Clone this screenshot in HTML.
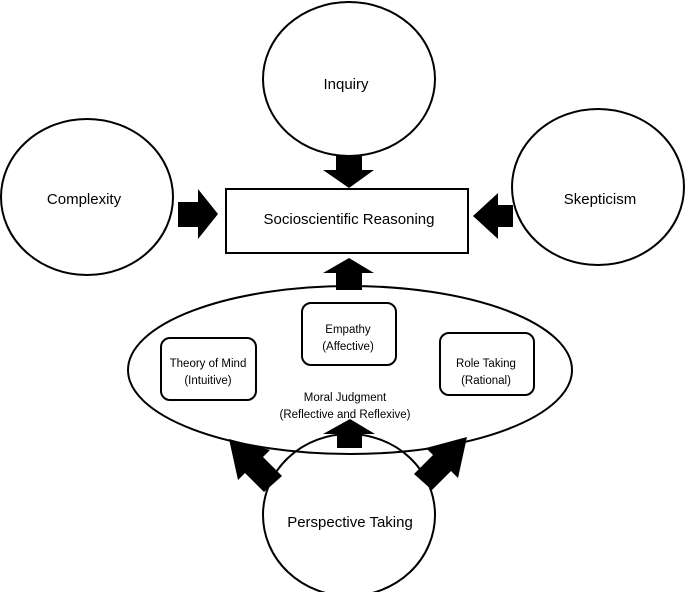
<!DOCTYPE html>
<html><head><style>body{margin:0;background:#fff}svg text{font-family:"Liberation Sans",sans-serif;fill:#000}</style></head><body>
<svg width="685" height="592" viewBox="0 0 685 592" xmlns="http://www.w3.org/2000/svg">
<g fill="#fff" stroke="#000" stroke-width="2">
<ellipse cx="349" cy="79" rx="86" ry="77"/>
<ellipse cx="87" cy="197" rx="86" ry="78"/>
<ellipse cx="598" cy="187" rx="86" ry="78"/>
<ellipse cx="350" cy="370" rx="222" ry="84" fill="none"/>
<ellipse cx="349" cy="515" rx="86" ry="81" fill="none"/>
<rect x="226" y="189" width="242" height="64"/>
<rect x="161" y="338" width="95" height="62" rx="9"/>
<rect x="302" y="303" width="94" height="62" rx="9"/>
<rect x="440" y="333" width="94" height="62" rx="9"/>
</g>
<g fill="#000">
<polygon points="336,155 362,155 362,170 374,170 349,188 323,170 336,170"/>
<polygon points="178,202 198,202 198,189 218,214 198,239 198,227 178,227"/>
<polygon points="513,205 498,205 498,193 473,216 498,239 498,227 513,227"/>
<polygon points="336,290 362,290 362,273 374,273 349,258 323,273 336,273"/>
<polygon points="337,448 362,448 362,434 375,434 350,419 323,434 337,434"/>
<polygon points="229,439 238,480 245,473 264,492 282,476 263,457 270,450"/>
<polygon points="467,437 458,478 451,471 432,490 414,474 433,455 426,448"/>
</g>
<g text-anchor="middle" font-size="15">
<text x="346" y="89">Inquiry</text>
<text x="84" y="204">Complexity</text>
<text x="600" y="204">Skepticism</text>
<text x="349" y="224">Socioscientific Reasoning</text>
<text x="350" y="527">Perspective Taking</text>
</g>
<g text-anchor="middle" font-size="11.5">
<text x="208" y="367">Theory of Mind</text><text x="208" y="384">(Intuitive)</text>
<text x="348" y="333">Empathy</text><text x="348" y="350">(Affective)</text>
<text x="486" y="367">Role Taking</text><text x="486" y="384">(Rational)</text>
<text x="345" y="401">Moral Judgment</text><text x="345" y="418">(Reflective and Reflexive)</text>
</g>
</svg>
</body></html>
